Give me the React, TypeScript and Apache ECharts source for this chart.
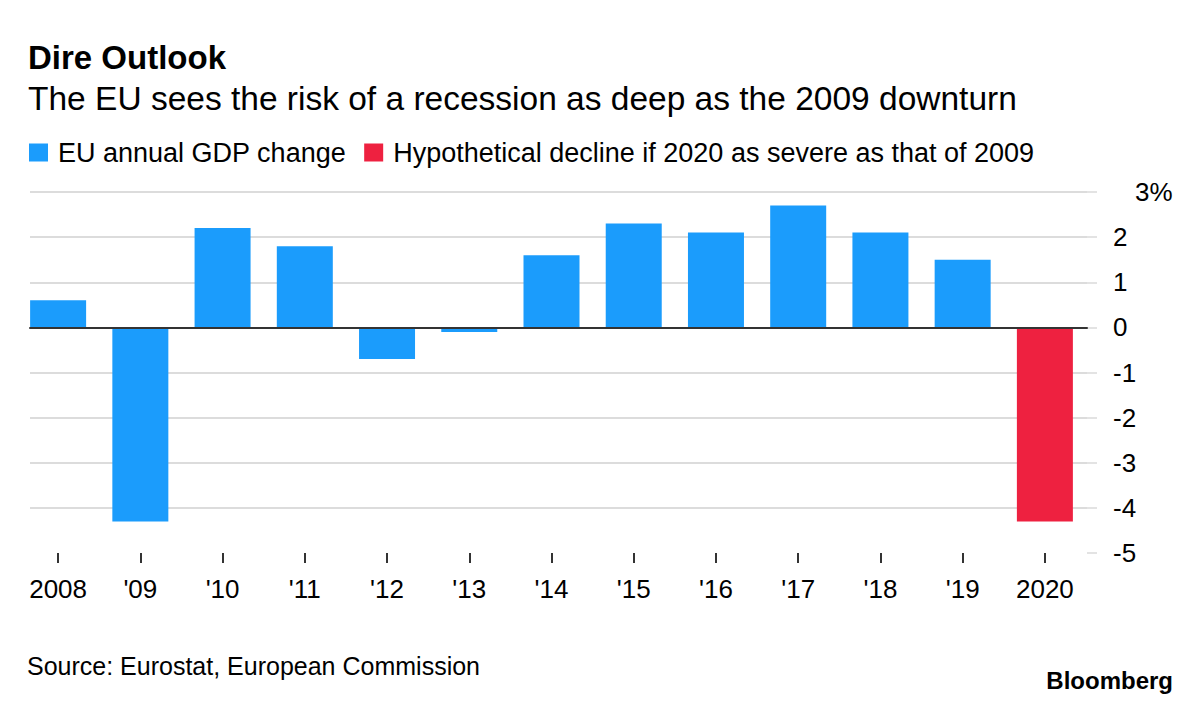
import React, { useEffect, useRef } from "react";
import * as echarts from "echarts";

const categories = ["2008", "'09", "'10", "'11", "'12", "'13", "'14", "'15", "'16", "'17", "'18", "'19", "2020"];
const gdpChange = [0.6, -4.3, 2.2, 1.8, -0.7, -0.1, 1.6, 2.3, 2.1, 2.7, 2.1, 1.5, null];
const hypothetical = [null, null, null, null, null, null, null, null, null, null, null, null, -4.3];
const yMin = -5;
const yMax = 3;
const yInterval = 1;

const titleText = "Dire Outlook";
const subtitleText = "The EU sees the risk of a recession as deep as the 2009 downturn";
const seriesNames = ["EU annual GDP change", "Hypothetical decline if 2020 as severe as that of 2009"];
const sourceText = "Source: Eurostat, European Commission";

const FONT = "'Liberation Sans', Arial, Helvetica, sans-serif";
const BLUE = "#1b9cfc";
const RED = "#ee2140";

export default function App() {
  const ref = useRef<HTMLDivElement>(null);
  useEffect(() => {
    if (!ref.current) return;
    const chart = echarts.init(ref.current, null, { renderer: "svg" });
    const gridTop = 192;
    const gridBottom = 704 - 553;
    chart.setOption({
      animation: false,
      backgroundColor: "#ffffff",
      textStyle: { fontFamily: FONT },
      title: [
        {
          text: titleText,
          left: 23,
          top: 36,
          textStyle: { fontFamily: FONT, fontSize: 33, fontWeight: "bold", color: "#000" },
        },
        {
          text: subtitleText,
          left: 23,
          top: 76,
          textStyle: { fontFamily: FONT, fontSize: 33.5, fontWeight: "normal", color: "#000" },
        },
      ],
      legend: {
        left: 24,
        top: 134,
        icon: "rect",
        itemWidth: 19,
        itemHeight: 18,
        itemGap: 18,
        textStyle: { fontFamily: FONT, fontSize: 27, color: "#000", padding: [0, 0, 0, 5] },
        data: seriesNames,
      },
      grid: [
        { left: 1087, right: 103, top: gridTop, bottom: gridBottom },
        { left: 30, right: 113, top: gridTop, bottom: gridBottom },
        { left: 17, right: 114, top: gridTop, bottom: gridBottom },
      ],
      xAxis: [
        { gridIndex: 0, type: "value", show: false, min: 0, max: 1 },
        {
          gridIndex: 1,
          type: "value",
          min: 0,
          max: 1,
          z: 5,
          axisLine: { show: true, onZero: true, lineStyle: { color: "#333", width: 2 } },
          axisTick: { show: false },
          axisLabel: { show: false },
          splitLine: { show: false },
        },
        {
          gridIndex: 2,
          type: "category",
          data: categories,
          axisLine: { show: false, onZero: false },
          axisTick: { show: true, alignWithLabel: true, length: 10, lineStyle: { color: "#333", width: 2 } },
          axisLabel: { fontFamily: FONT, fontSize: 26, color: "#000", margin: 23 },
        },
      ],
      yAxis: [
        {
          gridIndex: 0,
          type: "value",
          position: "right",
          min: yMin,
          max: yMax,
          interval: yInterval,
          axisLine: { show: false },
          axisTick: { show: false },
          splitLine: { show: true, lineStyle: { color: "#e3e3e3", width: 2 } },
          axisLabel: {
            margin: 16,
            fontFamily: FONT,
            fontSize: 26,
            color: "#000",
            formatter: (v: number) => (v === yMax ? "{top|" + v + "%}" : String(v)),
            rich: { top: { fontFamily: FONT, fontSize: 26, color: "#000", padding: [0, 0, 0, 22] } },
          },
        },
        {
          gridIndex: 1,
          type: "value",
          min: yMin,
          max: yMax,
          interval: yInterval,
          axisLine: { show: false },
          axisTick: { show: false },
          axisLabel: { show: false },
          splitLine: { show: true, showMinLine: false, lineStyle: { color: "#dcdcdc", width: 2 } },
        },
        { gridIndex: 2, type: "value", min: yMin, max: yMax, interval: yInterval, show: false },
      ],
      series: [
        {
          name: seriesNames[0],
          type: "bar",
          xAxisIndex: 2,
          yAxisIndex: 2,
          data: gdpChange,
          barWidth: 56,
          barGap: "-100%",
          itemStyle: { color: BLUE },
        },
        {
          name: seriesNames[1],
          type: "bar",
          xAxisIndex: 2,
          yAxisIndex: 2,
          data: hypothetical,
          barWidth: 56,
          barGap: "-100%",
          itemStyle: { color: RED },
        },
      ],
      graphic: [
        {
          type: "text",
          left: 27,
          top: 653,
          style: { text: sourceText, fontFamily: FONT, fontSize: 25, fill: "#000" },
        },
        {
          type: "text",
          right: 27,
          top: 668,
          style: { text: "Bloomberg", fontFamily: FONT, fontSize: 24, fontWeight: 900, fill: "#000" },
        },
      ],
    });
    return () => chart.dispose();
  }, []);
  return <div ref={ref} style={{ position: "fixed", left: 0, top: 0, width: 1200, height: 704 }} />;
}
